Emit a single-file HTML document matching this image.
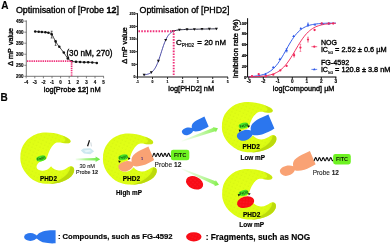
<!DOCTYPE html>
<html><head><meta charset="utf-8"><title>Figure</title>
<style>
html,body{margin:0;padding:0;background:#fff}
svg{display:block;font-family:"Liberation Sans",sans-serif}
text{stroke:#000;stroke-width:0.34px;paint-order:stroke}
.tk text{stroke-width:0.14px !important}
text[font-weight="bold"]{stroke-width:0.16px}
.ns{stroke:none !important}
.sb{stroke-width:0.18px}
.lt{stroke-width:0.1px;fill:#222}
</style></head><body>
<svg width="392" height="245" viewBox="0 0 392 245">
<rect width="392" height="245" fill="#fff"/>
<defs>
<radialGradient id="gy" cx="0.40" cy="0.45" r="0.65">
<stop offset="0" stop-color="#e3ff16"/><stop offset="0.8" stop-color="#ddfd14"/><stop offset="1" stop-color="#d4f612"/>
</radialGradient>
<linearGradient id="ga" x1="0" x2="1" y1="0" y2="0">
<stop offset="0" stop-color="#b4f696" stop-opacity="0.1"/><stop offset="0.45" stop-color="#aaf488" stop-opacity="0.6"/><stop offset="0.85" stop-color="#96f266" stop-opacity="0.95"/><stop offset="1" stop-color="#7cee44" stop-opacity="1"/>
</linearGradient>
<linearGradient id="ga1" x1="0" x2="1" y1="0" y2="0"><stop offset="0" stop-color="#a8f688" stop-opacity="0.15"/><stop offset="0.4" stop-color="#90f068" stop-opacity="0.75"/><stop offset="1" stop-color="#64e83c" stop-opacity="1"/></linearGradient>
<pattern id="rdots" width="3" height="3" patternUnits="userSpaceOnUse" patternTransform="rotate(20)"><circle cx="1" cy="1" r="0.42" fill="#ff5a78" opacity="0.9"/></pattern>
<pattern id="dots" width="3.6" height="3.6" patternUnits="userSpaceOnUse" patternTransform="rotate(25)"><circle cx="1" cy="1" r="0.42" fill="#a9c60c" opacity="0.85"/></pattern>
<path id="blobp" d="M20.30 158.00C20.30 151.00 22.00 146.00 25.00 142.50C28.00 138.50 32.50 135.20 37.20 133.80C42.00 132.30 48.00 132.20 53.60 133.10C58.50 133.90 64.00 135.80 67.40 137.70C69.50 138.90 70.80 140.00 70.60 141.40C70.40 142.80 69.00 143.40 66.50 143.30C63.00 143.20 59.50 142.00 56.80 142.60C53.60 143.60 51.00 147.60 49.50 150.80C48.00 154.00 47.60 156.60 46.60 158.40C45.40 160.40 42.00 160.40 39.60 162.00C37.00 163.80 35.80 166.40 37.00 168.60C38.40 170.80 43.00 171.20 46.40 170.00C48.60 169.20 50.00 167.60 51.10 166.30C52.40 168.40 55.00 170.40 59.00 170.60C63.00 170.80 66.00 168.60 68.40 167.00C70.00 166.00 72.00 165.80 73.40 167.40C74.60 169.00 74.40 171.60 73.00 173.95C71.00 177.41 67.00 180.01 62.00 181.74C57.00 183.47 51.00 184.12 45.40 183.68C39.00 183.25 33.00 180.65 28.40 175.89C23.60 171.00 20.30 165.00 20.30 158.00Z"/>
<g id="blob">
<use href="#blobp" fill="url(#gy)"/>
<use href="#blobp" fill="url(#dots)"/>
<path d="M62 135.4C65.5 136.6 69.6 138.8 70.6 141.4C70.4 142.8 69 143.4 66.5 143.3C64.4 143.2 62.6 142.8 61 142.6C65.4 142 67.6 139.6 62 135.4Z" fill="#b9d60c" opacity="0.55"/>
<path d="M73.4 167.4C74.6 169 74.4 171.6 73 173.9C71 177.4 67 180 62 181.7C58 183 54 183.8 50 183.9C57 181.6 62.6 178.6 66.2 175C68.8 172.4 70.4 169.6 70.4 166.6C71.6 166.3 72.8 166.8 73.4 167.4Z" fill="#b9d60c" opacity="0.9"/>
</g>
<g id="fe" transform="rotate(-13)"><ellipse cx="0" cy="0" rx="5" ry="2.8" fill="#48e626"/><text class="ns" x="0.1" y="1.15" font-size="3.5" text-anchor="middle" fill="#021002">Fe(II)</text></g>
<path id="tri" d="M-1.3 -1.1L1.4 -0.6L-0.4 1.5Z" fill="#0a0a0a"/>
<path id="cmpd" d="M279.9 171.6C279.6 169 283 166.4 287.4 165.6C289.8 165.2 291.8 165.6 293.2 166.2C292.6 163.8 293.2 161.6 294.6 159.8C297 157 301 154.8 304.6 153.4L309.9 151L315.6 164.3C312.5 166.4 308 168.6 304.5 169.7C300.5 170.9 297 171.2 294.8 170.2C294 172.4 291.6 174.6 288 175.6C284 176.6 280.4 174.8 279.9 171.6Z"/>
<path id="arr" d="M0 -0.5L34.4 -1.9L34 -3L38.6 -0.1L35.3 3.1L35 1.9L0 0.5Z" fill="url(#ga)"/>
<path id="wave" d="M0.00 1.60L0.17 1.53L0.34 1.33L0.51 1.01L0.68 0.61L0.85 0.15L1.02 -0.32L1.19 -0.76L1.36 -1.14L1.53 -1.41L1.70 -1.57L1.87 -1.59L2.04 -1.47L2.21 -1.23L2.38 -0.88L2.55 -0.45L2.72 0.01L2.89 0.48L3.06 0.90L3.23 1.25L3.40 1.48L3.57 1.59L3.74 1.57L3.91 1.40L4.08 1.12L4.25 0.74L4.42 0.29L4.59 -0.18L4.76 -0.63L4.93 -1.03L5.10 -1.34L5.27 -1.54L5.44 -1.60L5.61 -1.52L5.78 -1.31L5.95 -0.99L6.12 -0.58L6.29 -0.12L6.46 0.34L6.63 0.78L6.80 1.16L6.97 1.43L7.14 1.58L7.31 1.59L7.48 1.46L7.65 1.21L7.82 0.86L7.99 0.43L8.16 -0.04L8.33 -0.50L8.50 -0.92L8.67 -1.26L8.84 -1.49L9.01 -1.60L9.18 -1.56L9.35 -1.39L9.52 -1.10L9.69 -0.71L9.86 -0.26L10.03 0.21L10.20 0.66L10.37 1.06L10.54 1.36L10.71 1.55L10.88 1.60L11.05 1.51L11.22 1.30L11.39 0.97L11.56 0.56L11.73 0.10L11.90 -0.37L12.07 -0.81L12.24 -1.17L12.41 -1.44L12.58 -1.58L12.75 -1.58L12.92 -1.45L13.09 -1.19L13.26 -0.83L13.43 -0.40L13.60 0.07L13.77 0.53L13.94 0.95L14.11 1.28L14.28 1.50L14.45 1.60L14.62 1.55L14.79 1.37L14.96 1.08L15.13 0.69L15.30 0.24L15.47 -0.24L15.64 -0.69L15.81 -1.08L15.98 -1.37L16.15 -1.55L16.32 -1.60L16.49 -1.50L16.66 -1.28L16.83 -0.95L17.00 -0.53L17.17 -0.07L17.34 0.40L17.51 0.83L17.68 1.19L17.85 1.45L18.02 1.58L18.19 1.58L18.36 1.44L18.53 1.17L18.70 0.81" fill="none" stroke="#000" stroke-width="1.02" stroke-linejoin="round"/>
</defs>

<path d="M26.3 20.4V76.3H103.9" fill="none" stroke="#555" stroke-width="0.8"/>
<path d="M26.2 76.3v2M34.8 76.3v2M43.4 76.3v2M52 76.3v2M60.6 76.3v2M69.2 76.3v2M77.8 76.3v2M86.4 76.3v2M95 76.3v2M103.6 76.3v2M26.3 76.3h-2M26.3 65.27h-2M26.3 54.24h-2M26.3 43.21h-2M26.3 32.18h-2M26.3 21.15h-2" stroke="#555" stroke-width="0.72" fill="none"/>
<g font-size="4.5" font-weight="bold" text-anchor="middle" class="tk">
<text x="26.2" y="83.6">-4</text>
<text x="34.8" y="83.6">-3</text>
<text x="43.4" y="83.6">-2</text>
<text x="52" y="83.6">-1</text>
<text x="60.6" y="83.6">0</text>
<text x="69.2" y="83.6">1</text>
<text x="77.8" y="83.6">2</text>
<text x="86.4" y="83.6">3</text>
<text x="95" y="83.6">4</text>
<text x="103.6" y="83.6">5</text>
</g>
<g font-size="4.5" font-weight="bold" text-anchor="end" class="tk">
<text x="23.6" y="77.92">200</text>
<text x="23.6" y="66.89">250</text>
<text x="23.6" y="55.86">300</text>
<text x="23.6" y="44.83">350</text>
<text x="23.6" y="33.8">400</text>
<text x="23.6" y="22.77">450</text>
</g>
<path d="M35.2 31.6C35.78 31.63 37.58 31.73 38.7 31.8C39.82 31.87 40.78 31.93 41.9 32C43.02 32.07 44.32 32.07 45.4 32.2C46.48 32.33 47.35 32.47 48.4 32.8C49.45 33.13 50.5 32.73 51.7 34.2C52.9 35.67 54.33 39.5 55.6 41.6C56.87 43.7 57.93 44.97 59.3 46.8C60.67 48.63 62.38 50.67 63.8 52.6C65.22 54.53 66.45 56.95 67.8 58.4C69.15 59.85 70.53 60.73 71.9 61.3C73.27 61.87 74.63 61.68 76 61.8C77.37 61.92 78.73 61.93 80.1 62C81.47 62.07 82.85 62.17 84.2 62.2C85.55 62.23 86.85 62.17 88.2 62.2C89.55 62.23 90.87 62.28 92.3 62.4C93.73 62.52 96.05 62.82 96.8 62.9" fill="none" stroke="#111" stroke-width="0.8"/>
<circle cx="35.2" cy="31.6" r="1.25" fill="#111"/>
<circle cx="38.7" cy="31.8" r="1.25" fill="#111"/>
<circle cx="41.9" cy="32" r="1.25" fill="#111"/>
<circle cx="45.4" cy="32.2" r="1.25" fill="#111"/>
<circle cx="48.4" cy="32.8" r="1.25" fill="#111"/>
<circle cx="51.7" cy="34.2" r="1.25" fill="#111"/>
<circle cx="55.6" cy="41.6" r="1.25" fill="#111"/>
<circle cx="59.3" cy="46.8" r="1.25" fill="#111"/>
<circle cx="63.8" cy="52.6" r="1.25" fill="#111"/>
<circle cx="67.8" cy="58.4" r="1.25" fill="#111"/>
<circle cx="71.9" cy="61.3" r="1.25" fill="#111"/>
<circle cx="76" cy="61.8" r="1.25" fill="#111"/>
<circle cx="80.1" cy="62" r="1.25" fill="#111"/>
<circle cx="84.2" cy="62.2" r="1.25" fill="#111"/>
<circle cx="88.2" cy="62.2" r="1.25" fill="#111"/>
<circle cx="92.3" cy="62.4" r="1.25" fill="#111"/>
<circle cx="96.8" cy="62.9" r="1.25" fill="#111"/>
<path d="M51.7 31.2V38M50.7 31.2h2M50.7 38h2M55.6 40.4V45.4M54.7 40.4h1.8M54.7 45.4h1.8" stroke="#111" stroke-width="0.6" fill="none"/>
<path d="M27 61.1H71.6V76" fill="none" stroke="#f0307a" stroke-width="1.7" stroke-dasharray="1.35 0.88"/>
<path d="M137.5 13.2V77H228" fill="none" stroke="#1a1a1a" stroke-width="1.0"/>
<path d="M137.45 77v2M152.5 77v2M167.55 77v2M182.6 77v2M197.65 77v2M212.7 77v2M227.75 77v2M137.5 77h-2M137.5 64.35h-2M137.5 51.7h-2M137.5 39.05h-2M137.5 26.4h-2M137.5 13.75h-2" stroke="#1a1a1a" stroke-width="0.90" fill="none"/>
<g font-size="3.5" font-weight="bold" text-anchor="middle" class="tk">
<text x="137.45" y="82.6">-1</text>
<text x="152.5" y="82.6">0</text>
<text x="167.55" y="82.6">1</text>
<text x="182.6" y="82.6">2</text>
<text x="197.65" y="82.6">3</text>
<text x="212.7" y="82.6">4</text>
<text x="227.75" y="82.6">5</text>
</g>
<g font-size="3.5" font-weight="bold" text-anchor="end" class="tk">
<text x="135.4" y="78.26">0</text>
<text x="135.4" y="65.61">50</text>
<text x="135.4" y="52.96">100</text>
<text x="135.4" y="40.31">150</text>
<text x="135.4" y="27.66">200</text>
<text x="135.4" y="15.01">250</text>
</g>
<path d="M143.47 74.89L143.98 74.84L144.5 74.78L145.01 74.71L145.53 74.63L146.04 74.54L146.56 74.44L147.07 74.32L147.58 74.19L148.1 74.04L148.61 73.86L149.13 73.66L149.64 73.43L150.15 73.17L150.67 72.87L151.18 72.53L151.7 72.15L152.21 71.72L152.73 71.23L153.24 70.69L153.75 70.07L154.27 69.39L154.78 68.63L155.3 67.79L155.81 66.87L156.33 65.86L156.84 64.76L157.35 63.57L157.87 62.3L158.38 60.95L158.9 59.53L159.41 58.04L159.92 56.51L160.44 54.93L160.95 53.32L161.47 51.71L161.98 50.11L162.5 48.53L163.01 46.98L163.52 45.49L164.04 44.07L164.55 42.71L165.07 41.43L165.58 40.24L166.1 39.14L166.61 38.12L167.12 37.19L167.64 36.35L168.15 35.58L168.67 34.89L169.18 34.27L169.69 33.72L170.21 33.23L170.72 32.8L171.24 32.41L171.75 32.07L172.27 31.77L172.78 31.49L173.29 31.25L173.81 31.04L174.32 30.85" fill="none" stroke="#33339a" stroke-width="0.9"/>
<path d="M173.57 31.13L175.02 30.63L176.48 30.27L177.93 30.02L179.39 29.85L180.84 29.72L182.3 29.62L183.75 29.55L185.21 29.49L186.66 29.44L188.12 29.39L189.57 29.35L191.03 29.32L192.48 29.29L193.94 29.25L195.39 29.22L196.85 29.19L198.3 29.16L199.76 29.13L201.21 29.1L202.67 29.07L204.12 29.04L205.58 29.01L207.03 28.98L208.49 28.95L209.94 28.93L211.4 28.9L212.85 28.87L214.31 28.84L215.76 28.81L217.22 28.78" fill="none" stroke="#15152a" stroke-width="0.9"/>
<path d="M142.6 73.73h3l-1.5 2.6z" fill="#111"/>
<path d="M149.8 71.35h3l-1.5 2.6z" fill="#111"/>
<path d="M156.9 59.81h3l-1.5 2.6z" fill="#111"/>
<path d="M164.2 38.88h3l-1.5 2.6z" fill="#111"/>
<path d="M171.8 30.15h3l-1.5 2.6z" fill="#111"/>
<path d="M178 28.73h3l-1.5 2.6z" fill="#111"/>
<path d="M185.5 28.33h3l-1.5 2.6z" fill="#111"/>
<path d="M192.9 28.14h3l-1.5 2.6z" fill="#111"/>
<path d="M200.5 27.99h3l-1.5 2.6z" fill="#111"/>
<path d="M207.8 27.84h3l-1.5 2.6z" fill="#111"/>
<path d="M214.9 27.69h3l-1.5 2.6z" fill="#111"/>
<path d="M138.4 31.3H173.7V76.4" fill="none" stroke="#f0307a" stroke-width="1.9" stroke-dasharray="1.6 1.27"/>
<path d="M247.6 18.2V77H336.4" fill="none" stroke="#000" stroke-width="1.0"/>
<path d="M248.8 77v2M263.3 77v2M277.8 77v2M292.3 77v2M306.8 77v2M321.3 77v2M335.8 77v2M247.6 77h-2M247.6 66.2h-2M247.6 55.4h-2M247.6 44.6h-2M247.6 33.8h-2M247.6 23h-2" stroke="#000" stroke-width="0.90" fill="none"/>
<g font-size="4.7" font-weight="bold" text-anchor="middle" class="tk">
<text x="248.8" y="83.4">-3</text>
<text x="263.3" y="83.4">-2</text>
<text x="277.8" y="83.4">-1</text>
<text x="292.3" y="83.4">0</text>
<text x="306.8" y="83.4">1</text>
<text x="321.3" y="83.4">2</text>
<text x="335.8" y="83.4">3</text>
</g>
<g font-size="4.2" font-weight="bold" text-anchor="end" class="tk">
<text x="246.3" y="78.51">0</text>
<text x="246.3" y="67.71">20</text>
<text x="246.3" y="56.91">40</text>
<text x="246.3" y="46.11">60</text>
<text x="246.3" y="35.31">80</text>
<text x="246.3" y="24.51">100</text>
</g>
<path d="M248.8 76.63L250.25 76.55L251.7 76.45L253.15 76.34L254.6 76.2L256.05 76.03L257.5 75.83L258.95 75.59L260.4 75.3L261.85 74.95L263.3 74.53L264.75 74.03L266.2 73.44L267.65 72.74L269.1 71.91L270.55 70.95L272 69.83L273.45 68.54L274.9 67.06L276.35 65.4L277.8 63.54L279.25 61.49L280.7 59.27L282.15 56.89L283.6 54.4L285.05 51.83L286.5 49.22L287.95 46.62L289.4 44.09L290.85 41.66L292.3 39.38L293.75 37.26L295.2 35.32L296.65 33.58L298.1 32.03L299.55 30.67L301 29.48L302.45 28.46L303.9 27.58L305.35 26.83L306.8 26.2L308.25 25.66L309.7 25.21L311.15 24.84L312.6 24.52L314.05 24.26L315.5 24.04L316.95 23.86L318.4 23.71L319.85 23.59L321.3 23.49L322.75 23.4L324.2 23.33L325.65 23.27L327.1 23.23L328.55 23.19L330 23.15L331.45 23.13L332.9 23.1L334.35 23.09L335.8 23.07" fill="none" stroke="#2a55e8" stroke-width="0.95"/>
<path d="M248.8 76.86L250.25 76.83L251.7 76.79L253.15 76.75L254.6 76.7L256.05 76.64L257.5 76.57L258.95 76.48L260.4 76.38L261.85 76.26L263.3 76.11L264.75 75.93L266.2 75.72L267.65 75.47L269.1 75.17L270.55 74.82L272 74.4L273.45 73.9L274.9 73.32L276.35 72.64L277.8 71.84L279.25 70.91L280.7 69.84L282.15 68.62L283.6 67.23L285.05 65.67L286.5 63.94L287.95 62.03L289.4 59.95L290.85 57.74L292.3 55.4L293.75 52.97L295.2 50.5L296.65 48.01L298.1 45.56L299.55 43.19L301 40.92L302.45 38.78L303.9 36.81L305.35 35L306.8 33.37L308.25 31.91L309.7 30.63L311.15 29.5L312.6 28.52L314.05 27.67L315.5 26.94L316.95 26.32L318.4 25.79L319.85 25.34L321.3 24.96L322.75 24.64L324.2 24.37L325.65 24.15L327.1 23.96L328.55 23.8L330 23.67L331.45 23.55L332.9 23.46L334.35 23.38L335.8 23.32" fill="none" stroke="#f0285a" stroke-width="0.95"/>
<path d="M265.5 72.8l1.4 2.4h-2.8z" fill="#2a55e8"/>
<path d="M273.2 65.8l1.4 2.4h-2.8z" fill="#2a55e8"/>
<path d="M279.9 57.6l1.4 2.4h-2.8z" fill="#2a55e8"/>
<path d="M286.6 48.8l1.4 2.4h-2.8z" fill="#2a55e8"/>
<path d="M293.6 34.7l1.4 2.4h-2.8z" fill="#2a55e8"/>
<path d="M300.8 26.9l1.4 2.4h-2.8z" fill="#2a55e8"/>
<path d="M308 23.2l1.4 2.4h-2.8z" fill="#2a55e8"/>
<path d="M315 23.2l1.4 2.4h-2.8z" fill="#2a55e8"/>
<path d="M322 22.2l1.4 2.4h-2.8z" fill="#2a55e8"/>
<path d="M329 22l1.4 2.4h-2.8z" fill="#2a55e8"/>
<circle cx="252" cy="76.2" r="1.15" fill="#f0285a"/>
<circle cx="258.7" cy="74.2" r="1.15" fill="#f0285a"/>
<circle cx="266" cy="76.3" r="1.15" fill="#f0285a"/>
<circle cx="273.3" cy="74.7" r="1.15" fill="#f0285a"/>
<circle cx="280.3" cy="70.4" r="1.15" fill="#f0285a"/>
<circle cx="286.6" cy="65.9" r="1.15" fill="#f0285a"/>
<circle cx="294.1" cy="55.2" r="1.15" fill="#f0285a"/>
<circle cx="300.4" cy="47.6" r="1.15" fill="#f0285a"/>
<circle cx="308" cy="39.6" r="1.15" fill="#f0285a"/>
<circle cx="314.6" cy="30" r="1.15" fill="#f0285a"/>
<circle cx="321.7" cy="23.5" r="1.15" fill="#f0285a"/>
<circle cx="328.7" cy="23.5" r="1.15" fill="#f0285a"/>
<circle cx="333.2" cy="23.5" r="1.15" fill="#f0285a"/>
<path d="M300.4 44.2V51.4M299.5 44.2h1.8M299.5 51.4h1.8" stroke="#f0285a" stroke-width="0.5" fill="none"/>
<path d="M308 37.2V42M307.1 37.2h1.8M307.1 42h1.8" stroke="#f0285a" stroke-width="0.5" fill="none"/>
<path d="M294.1 53.6V57M293.2 53.6h1.8M293.2 57h1.8" stroke="#f0285a" stroke-width="0.5" fill="none"/>
<path d="M308 23V26.2M307.1 23h1.8M307.1 26.2h1.8" stroke="#2a55e8" stroke-width="0.5" fill="none"/>
<path d="M286.6 48.6V52M285.7 48.6h1.8M285.7 52h1.8" stroke="#2a55e8" stroke-width="0.5" fill="none"/>

<!-- panel labels -->
<text x="1.3" y="8.8" font-size="10" font-weight="bold">A</text>
<text x="0.5" y="101.2" font-size="10" font-weight="bold">B</text>

<!-- chart 1 text -->
<text x="15.9" y="13.4" font-size="8.9" textLength="103" lengthAdjust="spacingAndGlyphs">Optimisation of [Probe <tspan font-weight="bold">12</tspan>]</text>
<text transform="translate(13.1 66.3) rotate(-90)" font-size="7.2"><tspan x="0.2" font-size="7.6">Δ</tspan><tspan x="7.4">mP</tspan><tspan x="19.2"> value</tspan></text>
<text x="43.8" y="92" font-size="7.4" textLength="56.9" lengthAdjust="spacingAndGlyphs">log[Probe <tspan font-weight="bold">12</tspan>] nM</text>
<text x="66.4" y="55.9" font-size="8.3" textLength="46.2" lengthAdjust="spacingAndGlyphs">(30 nM, 270)</text>

<!-- chart 2 text -->
<text x="139.5" y="13.2" font-size="8.9" textLength="90" lengthAdjust="spacingAndGlyphs">Optimisation of [PHD2]</text>
<text transform="translate(127.1 64) rotate(-90)" font-size="7.2"><tspan x="0.2" font-size="7.6">Δ</tspan><tspan x="6.8">mP</tspan><tspan x="17.6"> value</tspan></text>
<text x="168.3" y="90.7" font-size="7.5" textLength="45.8" lengthAdjust="spacingAndGlyphs">log[PHD2] nM</text>
<text x="176" y="44.8" font-size="8">C<tspan class="sb" x="181.8" y="47" font-size="4.5" textLength="12.4" lengthAdjust="spacingAndGlyphs">PHD2</tspan><tspan x="195.2" y="44.8" textLength="30.8" lengthAdjust="spacingAndGlyphs"> = 20 nM</tspan></text>

<!-- chart 3 text -->
<text transform="translate(238 78.3) rotate(-90)" font-size="7.4" textLength="59" lengthAdjust="spacingAndGlyphs">Inhibition rate (%)</text>
<text x="272.8" y="90.8" font-size="7.5" textLength="61.6" lengthAdjust="spacingAndGlyphs">log[Compound] µM</text>
<text x="320.9" y="44.9" font-size="7">NOG</text>
<text x="320.9" y="52" font-size="7.1">IC<tspan class="sb" x="328.1" y="53.8" font-size="4.4">50</tspan><tspan x="333" y="52" textLength="53.7" lengthAdjust="spacingAndGlyphs"> = 2.52 ± 0.6 µM</tspan></text>
<text x="320.9" y="64.9" font-size="7.2">FG-4592</text>
<text x="320.9" y="71.9" font-size="7.1">IC<tspan class="sb" x="328.1" y="73.7" font-size="4.4">50</tspan><tspan x="333" y="71.9" textLength="57.5" lengthAdjust="spacingAndGlyphs"> = 120.8 ± 3.8 nM</tspan></text>
<path d="M311.4 46.7h5.8" stroke="#f0285a" stroke-width="0.7"/><circle cx="314.3" cy="46.7" r="1.1" fill="#f0285a"/>
<path d="M311.4 69.4h5.8" stroke="#2a55e8" stroke-width="0.7"/><path d="M314.3 68.1l1.3 2.2h-2.6z" fill="#2a55e8"/>

<!-- Panel B -->
<g class="pb">
<!-- blob 1 -->
<use href="#blob"/>
<use href="#fe" x="0" y="0" transform="translate(41.1 158.4)"/>
<text x="48.5" y="180.7" font-size="6.3" font-weight="bold" text-anchor="middle">PHD2</text>

<!-- arrow 1 -->
<path d="M75.7 158.4L95.6 158V156.6L100.2 159.3L95.6 162V160.6L75.7 160.2Z" fill="url(#ga1)"/>
<path d="M80.8 150.4L83.4 148.6L90.4 148.2L94.1 151.2L90.4 154.2L84 153.4Z" fill="#cde8f0"/><path d="M84 150.4l5.5-0.6 2 1.4-5.5 1z" fill="#e8f6fa"/>
<path d="M89.5 140.2L87.6 146.2" stroke="#111" stroke-width="1.2" fill="none"/><path d="M90.8 142.4L91.4 146.4" stroke="#b8c4cc" stroke-width="0.7" fill="none"/>
<text class="lt" x="79.4" y="168" font-size="5.7" textLength="15.6" lengthAdjust="spacingAndGlyphs">30 nM</text>
<text class="lt" x="76" y="174.3" font-size="5.7" textLength="22.1" lengthAdjust="spacingAndGlyphs">Probe <tspan font-weight="bold">12</tspan></text>

<!-- blob 2 -->
<use href="#blob" transform="translate(82.6 1.6) scale(1 0.996)"/>
<use href="#cmpd" fill="#f9a274" transform="translate(-161.5 -4.4)"/>
<text class="ns" x="141.1" y="160.1" font-size="3.8" font-weight="bold" fill="#2a1a80">1</text>
<use href="#fe" transform="translate(123.2 157.3)"/><use href="#tri" transform="translate(119.5 161.5)"/><use href="#tri" transform="translate(129.1 158.5)"/>
<text x="131.4" y="180.6" font-size="6.5" font-weight="bold" text-anchor="middle">PHD2</text>
<text x="116" y="194.8" font-size="6.4" font-weight="bold" textLength="25.9" lengthAdjust="spacingAndGlyphs">High mP</text>
<use href="#wave" transform="translate(152.3 154.9)"/>
<rect x="170.9" y="149.7" width="18.4" height="10.6" rx="2.3" fill="#6ef222"/>
<text class="ns" x="180.1" y="157" font-size="5.6" font-weight="bold" text-anchor="middle" fill="#0e1c04">FITC</text>
<text class="lt" x="154.6" y="166.8" font-size="6.7" textLength="26.8" lengthAdjust="spacingAndGlyphs">Probe <tspan font-weight="bold">12</tspan></text>

<!-- arrows to right -->
<use href="#arr" transform="translate(181.6 141.2) rotate(-19.6)"/>
<use href="#arr" transform="translate(181.5 168.7) rotate(23.2) scale(1.055 1)"/>

<!-- free blue compound -->
<use href="#cmpd" fill="#2b76ee" transform="translate(181.9 131.9) scale(0.75) translate(-279.9 -171.4)"/>
<!-- free red fragment -->
<ellipse cx="194.6" cy="182.8" rx="9" ry="6.2" fill="#f80a14" transform="rotate(24 194.6 182.8)"/><ellipse cx="194.6" cy="182.8" rx="8" ry="5.2" style="fill:url(#rdots)" transform="rotate(24 194.6 182.8)"/>

<!-- blob 3 -->
<use href="#blob" transform="translate(201.3 -27.8) scale(1.013 0.98)"/>
<use href="#cmpd" fill="#2b76ee" transform="translate(236.9 136) scale(1.05) translate(-279.9 -171.4)"/>
<use href="#fe" transform="translate(243.6 125.6)"/><use href="#tri" transform="translate(240 130.6)"/><use href="#tri" transform="translate(248.8 126.3)"/>
<text x="251.2" y="149.1" font-size="6.5" font-weight="bold" text-anchor="middle">PHD2</text>
<text x="240.5" y="159.9" font-size="6.4" font-weight="bold" textLength="24.6" lengthAdjust="spacingAndGlyphs">Low mP</text>

<!-- blob 4 -->
<use href="#blob" transform="translate(201.8 38.2) scale(1 0.987)"/>
<ellipse cx="245.6" cy="202.2" rx="8.8" ry="5.6" fill="#f80a14" transform="rotate(-15 245.6 202.2)"/><ellipse cx="245.6" cy="202.2" rx="7.8" ry="4.6" style="fill:url(#rdots)" transform="rotate(-15 245.6 202.2)"/>
<use href="#fe" transform="translate(243.6 192.9)"/><use href="#tri" transform="translate(239 195)"/><use href="#tri" transform="translate(249.3 194)"/>
<text x="251.6" y="216.6" font-size="6.5" font-weight="bold" text-anchor="middle">PHD2</text>
<text x="239.2" y="226.7" font-size="6.6" font-weight="bold" textLength="25" lengthAdjust="spacingAndGlyphs">Low mP</text>

<!-- free probe -->
<use href="#cmpd" fill="#f9a274"/>
<use href="#wave" transform="translate(313.8 159.2) scale(1.04 1)"/>
<rect x="333.1" y="154.1" width="17.7" height="10.3" rx="2.3" fill="#6ef222"/>
<text class="ns" x="342" y="161.3" font-size="5.5" font-weight="bold" text-anchor="middle" fill="#0e1c04">FITC</text>
<text class="lt" x="312.7" y="174.7" font-size="6.6" textLength="26.1" lengthAdjust="spacingAndGlyphs">Probe <tspan font-weight="bold">12</tspan></text>
</g>

<!-- legend -->
<g fill="#2b76ee"><ellipse cx="30.4" cy="237" rx="6.3" ry="3.9"/><path d="M55.6 230.3V243.3C52 243.5 47 243.4 44.4 242.6C39.6 241.2 36.6 239 36.2 236.9C36.6 234.6 39.6 232.4 44.4 231C47 230.2 52 230.1 55.6 230.3Z"/><rect x="34" y="235.4" width="5" height="3.2"/></g>
<text x="57.9" y="239.1" font-size="8" font-weight="bold" textLength="114.6" lengthAdjust="spacingAndGlyphs">: Compounds, such as FG-4592</text>
<ellipse cx="193.8" cy="236.8" rx="7.7" ry="4.6" fill="#f80a14"/><ellipse cx="193.8" cy="236.8" rx="6.8" ry="3.7" style="fill:url(#rdots)"/>
<text x="205.7" y="239.5" font-size="8.4" font-weight="bold" textLength="104.6" lengthAdjust="spacingAndGlyphs">: Fragments, such as NOG</text>

</svg>
</body></html>
